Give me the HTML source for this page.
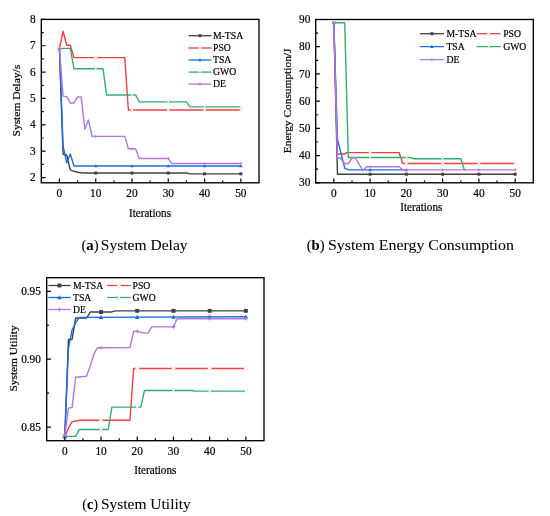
<!DOCTYPE html>
<html><head><meta charset="utf-8"><title>Figure</title>
<style>html,body{margin:0;padding:0;background:#fff;}svg{display:block;}text{stroke:#000;stroke-width:0.2px;}text.cap{stroke-width:0.05px;}</style>
</head><body>
<svg width="550" height="516" viewBox="0 0 550 516" font-family='"Liberation Serif", "Times New Roman", serif' fill="#000">
<rect width="550" height="516" fill="#fff"/>
<polyline points="59.44,48.39 63.07,154.34 66.7,154.86 70.33,170.15 73.95,171.2 77.58,172.26 81.21,172.79 84.84,173.05 186.43,173.05 190.06,173.84 240.86,173.84" fill="none" stroke="#404040" stroke-width="1.4" stroke-linejoin="round"/>
<rect x="57.94" y="46.89" width="3" height="3" fill="#404040"/>
<rect x="94.22" y="171.55" width="3" height="3" fill="#404040"/>
<rect x="130.51" y="171.55" width="3" height="3" fill="#404040"/>
<rect x="166.79" y="171.55" width="3" height="3" fill="#404040"/>
<rect x="203.07" y="172.34" width="3" height="3" fill="#404040"/>
<rect x="239.36" y="172.34" width="3" height="3" fill="#404040"/>
<polyline points="59.44,48.39 63.07,31.26 66.7,45.23 70.33,45.23 73.95,57.61 124.75,57.61 128.38,110.06 240.86,110.06" fill="none" stroke="#F14040" stroke-width="1.4" stroke-linejoin="round"/>
<circle cx="59.44" cy="48.39" r="1.5" fill="#fff" stroke="#F14040" stroke-width="0.5" stroke-opacity="0.3"/>
<circle cx="95.72" cy="57.61" r="1.5" fill="#fff" stroke="#F14040" stroke-width="0.5" stroke-opacity="0.3"/>
<circle cx="132.01" cy="110.06" r="1.5" fill="#fff" stroke="#F14040" stroke-width="0.5" stroke-opacity="0.3"/>
<circle cx="168.29" cy="110.06" r="1.5" fill="#fff" stroke="#F14040" stroke-width="0.5" stroke-opacity="0.3"/>
<circle cx="204.57" cy="110.06" r="1.5" fill="#fff" stroke="#F14040" stroke-width="0.5" stroke-opacity="0.3"/>
<circle cx="240.86" cy="110.06" r="1.5" fill="#fff" stroke="#F14040" stroke-width="0.5" stroke-opacity="0.3"/>
<polyline points="59.44,48.39 63.07,145.9 66.7,162.77 70.33,154.07 73.95,165.93 240.86,165.93" fill="none" stroke="#1A6FDF" stroke-width="1.4" stroke-linejoin="round"/>
<path d="M59.44 46.59L61.24 49.74L57.64 49.74Z" fill="#1A6FDF"/>
<path d="M95.72 164.13L97.52 167.28L93.92 167.28Z" fill="#1A6FDF"/>
<path d="M132.01 164.13L133.81 167.28L130.21 167.28Z" fill="#1A6FDF"/>
<path d="M168.29 164.13L170.09 167.28L166.49 167.28Z" fill="#1A6FDF"/>
<path d="M204.57 164.13L206.38 167.28L202.77 167.28Z" fill="#1A6FDF"/>
<path d="M240.86 164.13L242.66 167.28L239.06 167.28Z" fill="#1A6FDF"/>
<polyline points="59.44,48.39 70.33,48.39 73.95,68.68 102.98,68.68 106.61,95.04 135.64,95.04 139.26,101.89 186.43,101.89 190.06,106.9 240.86,106.9" fill="none" stroke="#37AD6B" stroke-width="1.4" stroke-linejoin="round"/>
<path d="M57.84 47.11L61.04 47.11L59.44 49.99Z" fill="#fff" stroke="#37AD6B" stroke-width="0.5" stroke-opacity="0.3"/>
<path d="M94.12 67.4L97.32 67.4L95.72 70.28Z" fill="#fff" stroke="#37AD6B" stroke-width="0.5" stroke-opacity="0.3"/>
<path d="M130.41 93.76L133.61 93.76L132.01 96.64Z" fill="#fff" stroke="#37AD6B" stroke-width="0.5" stroke-opacity="0.3"/>
<path d="M166.69 100.61L169.89 100.61L168.29 103.49Z" fill="#fff" stroke="#37AD6B" stroke-width="0.5" stroke-opacity="0.3"/>
<path d="M202.97 105.62L206.17 105.62L204.57 108.5Z" fill="#fff" stroke="#37AD6B" stroke-width="0.5" stroke-opacity="0.3"/>
<path d="M239.26 105.62L242.46 105.62L240.86 108.5Z" fill="#fff" stroke="#37AD6B" stroke-width="0.5" stroke-opacity="0.3"/>
<polyline points="59.44,48.39 63.07,96.09 66.7,96.62 70.33,102.94 73.95,102.94 77.58,96.88 81.21,96.88 84.84,129.3 88.47,120.08 92.1,136.42 124.75,136.42 128.38,148.8 135.64,148.8 139.26,158.55 168.29,158.55 171.92,163.56 240.86,163.56" fill="none" stroke="#B177DE" stroke-width="1.4" stroke-linejoin="round"/>
<path d="M59.44 46.59L60.04 47.79L61.24 48.39L60.04 48.99L59.44 50.19L58.84 48.99L57.64 48.39L58.84 47.79Z" fill="#B177DE"/>
<path d="M95.72 134.62L96.32 135.82L97.52 136.42L96.32 137.02L95.72 138.22L95.12 137.02L93.92 136.42L95.12 135.82Z" fill="#B177DE"/>
<path d="M132.01 147L132.61 148.2L133.81 148.8L132.61 149.4L132.01 150.6L131.41 149.4L130.21 148.8L131.41 148.2Z" fill="#B177DE"/>
<path d="M168.29 156.75L168.89 157.95L170.09 158.55L168.89 159.15L168.29 160.35L167.69 159.15L166.49 158.55L167.69 157.95Z" fill="#B177DE"/>
<path d="M204.57 161.76L205.17 162.96L206.38 163.56L205.17 164.16L204.57 165.36L203.97 164.16L202.77 163.56L203.97 162.96Z" fill="#B177DE"/>
<path d="M240.86 161.76L241.46 162.96L242.66 163.56L241.46 164.16L240.86 165.36L240.26 164.16L239.06 163.56L240.26 162.96Z" fill="#B177DE"/>
<rect x="41.3" y="19.4" width="217.7" height="163.4" fill="none" stroke="#000" stroke-width="1.35"/>
<path d="M59.44 182.8V178.6M95.72 182.8V178.6M132.01 182.8V178.6M168.29 182.8V178.6M204.57 182.8V178.6M240.86 182.8V178.6M77.58 182.8V180.4M113.87 182.8V180.4M150.15 182.8V180.4M186.43 182.8V180.4M222.72 182.8V180.4M41.3 177.53H45.5M41.3 151.17H45.5M41.3 124.82H45.5M41.3 98.46H45.5M41.3 72.11H45.5M41.3 45.75H45.5M41.3 19.4H45.5M41.3 164.35H43.7M41.3 138H43.7M41.3 111.64H43.7M41.3 85.29H43.7M41.3 58.93H43.7M41.3 32.58H43.7" stroke="#000" stroke-width="1.2" fill="none"/>
<text transform="translate(59.44 196.6) scale(1 1.08)" text-anchor="middle" font-size="11.3">0</text>
<text transform="translate(95.72 196.6) scale(1 1.08)" text-anchor="middle" font-size="11.3">10</text>
<text transform="translate(132.01 196.6) scale(1 1.08)" text-anchor="middle" font-size="11.3">20</text>
<text transform="translate(168.29 196.6) scale(1 1.08)" text-anchor="middle" font-size="11.3">30</text>
<text transform="translate(204.57 196.6) scale(1 1.08)" text-anchor="middle" font-size="11.3">40</text>
<text transform="translate(240.86 196.6) scale(1 1.08)" text-anchor="middle" font-size="11.3">50</text>
<text transform="translate(35.7 181.09) scale(1 1.08)" text-anchor="end" font-size="11.3">2</text>
<text transform="translate(35.7 154.74) scale(1 1.08)" text-anchor="end" font-size="11.3">3</text>
<text transform="translate(35.7 128.38) scale(1 1.08)" text-anchor="end" font-size="11.3">4</text>
<text transform="translate(35.7 102.03) scale(1 1.08)" text-anchor="end" font-size="11.3">5</text>
<text transform="translate(35.7 75.67) scale(1 1.08)" text-anchor="end" font-size="11.3">6</text>
<text transform="translate(35.7 49.32) scale(1 1.08)" text-anchor="end" font-size="11.3">7</text>
<text transform="translate(35.7 22.96) scale(1 1.08)" text-anchor="end" font-size="11.3">8</text>
<line x1="188.5" y1="35.7" x2="211.5" y2="35.7" stroke="#404040" stroke-width="1.3"/>
<rect x="198.5" y="34.2" width="3" height="3" fill="#404040"/>
<text x="213" y="39" font-size="9.7">M-TSA</text>
<line x1="188.5" y1="48" x2="211.5" y2="48" stroke="#F14040" stroke-width="1.3"/>
<circle cx="200" cy="48" r="1.5" fill="#fff" stroke="#F14040" stroke-width="0.5" stroke-opacity="0.3"/>
<text x="213" y="51.3" font-size="9.7">PSO</text>
<line x1="188.5" y1="60" x2="211.5" y2="60" stroke="#1A6FDF" stroke-width="1.3"/>
<path d="M200 58.2L201.8 61.35L198.2 61.35Z" fill="#1A6FDF"/>
<text x="213" y="63.3" font-size="9.7">TSA</text>
<line x1="188.5" y1="72.1" x2="211.5" y2="72.1" stroke="#37AD6B" stroke-width="1.3"/>
<path d="M198.4 70.82L201.6 70.82L200 73.7Z" fill="#fff" stroke="#37AD6B" stroke-width="0.5" stroke-opacity="0.3"/>
<text x="213" y="75.4" font-size="9.7">GWO</text>
<line x1="188.5" y1="84.1" x2="211.5" y2="84.1" stroke="#B177DE" stroke-width="1.3"/>
<path d="M200 82.3L200.6 83.5L201.8 84.1L200.6 84.7L200 85.9L199.4 84.7L198.2 84.1L199.4 83.5Z" fill="#B177DE"/>
<text x="213" y="87.4" font-size="9.7">DE</text>
<text transform="translate(20.3 100.65) rotate(-90)" text-anchor="middle" font-size="10.9" textLength="71.6" lengthAdjust="spacingAndGlyphs">System Delay/s</text>
<text transform="translate(150 216.9) scale(1 1.15)" text-anchor="middle" textLength="42" lengthAdjust="spacingAndGlyphs" font-size="11.2">Iterations</text>
<polyline points="333.83,22.77 337.46,174.23 515.17,174.23" fill="none" stroke="#404040" stroke-width="1.4" stroke-linejoin="round"/>
<rect x="332.33" y="21.27" width="3" height="3" fill="#404040"/>
<rect x="368.6" y="172.73" width="3" height="3" fill="#404040"/>
<rect x="404.87" y="172.73" width="3" height="3" fill="#404040"/>
<rect x="441.13" y="172.73" width="3" height="3" fill="#404040"/>
<rect x="477.4" y="172.73" width="3" height="3" fill="#404040"/>
<rect x="513.67" y="172.73" width="3" height="3" fill="#404040"/>
<polyline points="333.83,22.77 337.46,153.95 344.71,153.95 347.25,152.59 399.11,152.59 402.74,163.48 515.17,163.48" fill="none" stroke="#F14040" stroke-width="1.4" stroke-linejoin="round"/>
<circle cx="333.83" cy="22.77" r="1.5" fill="#fff" stroke="#F14040" stroke-width="0.5" stroke-opacity="0.3"/>
<circle cx="370.1" cy="152.59" r="1.5" fill="#fff" stroke="#F14040" stroke-width="0.5" stroke-opacity="0.3"/>
<circle cx="406.37" cy="163.48" r="1.5" fill="#fff" stroke="#F14040" stroke-width="0.5" stroke-opacity="0.3"/>
<circle cx="442.63" cy="163.48" r="1.5" fill="#fff" stroke="#F14040" stroke-width="0.5" stroke-opacity="0.3"/>
<circle cx="478.9" cy="163.48" r="1.5" fill="#fff" stroke="#F14040" stroke-width="0.5" stroke-opacity="0.3"/>
<circle cx="515.17" cy="163.48" r="1.5" fill="#fff" stroke="#F14040" stroke-width="0.5" stroke-opacity="0.3"/>
<polyline points="333.83,22.77 337.46,139.25 341.09,153.68 344.71,168.1 348.34,169.87 406.37,169.87" fill="none" stroke="#1A6FDF" stroke-width="1.4" stroke-linejoin="round"/>
<path d="M333.83 20.97L335.63 24.12L332.03 24.12Z" fill="#1A6FDF"/>
<path d="M370.1 168.07L371.9 171.22L368.3 171.22Z" fill="#1A6FDF"/>
<path d="M406.37 168.07L408.17 171.22L404.57 171.22Z" fill="#1A6FDF"/>
<polyline points="333.83,22.77 344.71,22.77 348.34,157.49 409.99,157.49 413.62,158.71 460.77,158.71 464.39,169.87 466.21,169.87" fill="none" stroke="#37AD6B" stroke-width="1.4" stroke-linejoin="round"/>
<path d="M332.23 21.49L335.43 21.49L333.83 24.37Z" fill="#fff" stroke="#37AD6B" stroke-width="0.5" stroke-opacity="0.3"/>
<path d="M368.5 156.21L371.7 156.21L370.1 159.09Z" fill="#fff" stroke="#37AD6B" stroke-width="0.5" stroke-opacity="0.3"/>
<path d="M404.77 156.21L407.97 156.21L406.37 159.09Z" fill="#fff" stroke="#37AD6B" stroke-width="0.5" stroke-opacity="0.3"/>
<path d="M441.03 157.43L444.23 157.43L442.63 160.31Z" fill="#fff" stroke="#37AD6B" stroke-width="0.5" stroke-opacity="0.3"/>
<polyline points="333.83,22.77 337.46,158.03 340.36,158.03 344.71,163.75 348.34,163.75 351.97,158.03 355.59,158.03 362.85,170.69 366.47,166.74 399.11,166.74 402.74,169.87 515.17,169.87" fill="none" stroke="#B177DE" stroke-width="1.4" stroke-linejoin="round"/>
<path d="M333.83 20.97L334.43 22.17L335.63 22.77L334.43 23.37L333.83 24.57L333.23 23.37L332.03 22.77L333.23 22.17Z" fill="#B177DE"/>
<path d="M370.1 164.94L370.7 166.14L371.9 166.74L370.7 167.34L370.1 168.54L369.5 167.34L368.3 166.74L369.5 166.14Z" fill="#B177DE"/>
<path d="M406.37 168.07L406.97 169.27L408.17 169.87L406.97 170.47L406.37 171.67L405.77 170.47L404.57 169.87L405.77 169.27Z" fill="#B177DE"/>
<path d="M442.63 168.07L443.23 169.27L444.43 169.87L443.23 170.47L442.63 171.67L442.03 170.47L440.83 169.87L442.03 169.27Z" fill="#B177DE"/>
<path d="M478.9 168.07L479.5 169.27L480.7 169.87L479.5 170.47L478.9 171.67L478.3 170.47L477.1 169.87L478.3 169.27Z" fill="#B177DE"/>
<path d="M515.17 168.07L515.77 169.27L516.97 169.87L515.77 170.47L515.17 171.67L514.57 170.47L513.37 169.87L514.57 169.27Z" fill="#B177DE"/>
<rect x="315.7" y="19.5" width="217.6" height="163.3" fill="none" stroke="#000" stroke-width="1.35"/>
<path d="M333.83 182.8V178.6M370.1 182.8V178.6M406.37 182.8V178.6M442.63 182.8V178.6M478.9 182.8V178.6M515.17 182.8V178.6M351.97 182.8V180.4M388.23 182.8V180.4M424.5 182.8V180.4M460.77 182.8V180.4M497.03 182.8V180.4M315.7 182.8H319.9M315.7 155.58H319.9M315.7 128.37H319.9M315.7 101.15H319.9M315.7 73.93H319.9M315.7 46.72H319.9M315.7 19.5H319.9M315.7 169.19H318.1M315.7 141.98H318.1M315.7 114.76H318.1M315.7 87.54H318.1M315.7 60.33H318.1M315.7 33.11H318.1" stroke="#000" stroke-width="1.2" fill="none"/>
<text transform="translate(333.83 196.6) scale(1 1.08)" text-anchor="middle" font-size="11.3">0</text>
<text transform="translate(370.1 196.6) scale(1 1.08)" text-anchor="middle" font-size="11.3">10</text>
<text transform="translate(406.37 196.6) scale(1 1.08)" text-anchor="middle" font-size="11.3">20</text>
<text transform="translate(442.63 196.6) scale(1 1.08)" text-anchor="middle" font-size="11.3">30</text>
<text transform="translate(478.9 196.6) scale(1 1.08)" text-anchor="middle" font-size="11.3">40</text>
<text transform="translate(515.17 196.6) scale(1 1.08)" text-anchor="middle" font-size="11.3">50</text>
<text transform="translate(310.3 186.36) scale(1 1.08)" text-anchor="end" font-size="11.3">30</text>
<text transform="translate(310.3 159.15) scale(1 1.08)" text-anchor="end" font-size="11.3">40</text>
<text transform="translate(310.3 131.93) scale(1 1.08)" text-anchor="end" font-size="11.3">50</text>
<text transform="translate(310.3 104.71) scale(1 1.08)" text-anchor="end" font-size="11.3">60</text>
<text transform="translate(310.3 77.5) scale(1 1.08)" text-anchor="end" font-size="11.3">70</text>
<text transform="translate(310.3 50.28) scale(1 1.08)" text-anchor="end" font-size="11.3">80</text>
<text transform="translate(310.3 23.06) scale(1 1.08)" text-anchor="end" font-size="11.3">90</text>
<line x1="419.9" y1="33.7" x2="443.9" y2="33.7" stroke="#404040" stroke-width="1.3"/>
<rect x="430.4" y="32.2" width="3" height="3" fill="#404040"/>
<text x="446.4" y="37" font-size="9.7">M-TSA</text>
<line x1="476.6" y1="33.7" x2="500.6" y2="33.7" stroke="#F14040" stroke-width="1.3"/>
<circle cx="488.6" cy="33.7" r="1.5" fill="#fff" stroke="#F14040" stroke-width="0.5" stroke-opacity="0.3"/>
<text x="503.2" y="37" font-size="9.7">PSO</text>
<line x1="419.9" y1="46.6" x2="443.9" y2="46.6" stroke="#1A6FDF" stroke-width="1.3"/>
<path d="M431.9 44.8L433.7 47.95L430.1 47.95Z" fill="#1A6FDF"/>
<text x="446.4" y="49.9" font-size="9.7">TSA</text>
<line x1="476.6" y1="46.6" x2="500.6" y2="46.6" stroke="#37AD6B" stroke-width="1.3"/>
<path d="M487 45.32L490.2 45.32L488.6 48.2Z" fill="#fff" stroke="#37AD6B" stroke-width="0.5" stroke-opacity="0.3"/>
<text x="503.2" y="49.9" font-size="9.7">GWO</text>
<line x1="419.9" y1="59.6" x2="443.9" y2="59.6" stroke="#B177DE" stroke-width="1.3"/>
<path d="M431.9 57.8L432.5 59L433.7 59.6L432.5 60.2L431.9 61.4L431.3 60.2L430.1 59.6L431.3 59Z" fill="#B177DE"/>
<text x="446.4" y="62.9" font-size="9.7">DE</text>
<text transform="translate(290.9 100.85) rotate(-90)" text-anchor="middle" font-size="10.9" textLength="104.6" lengthAdjust="spacingAndGlyphs">Energy Consumption/J</text>
<text transform="translate(421.3 211.1) scale(1 1.15)" text-anchor="middle" textLength="42" lengthAdjust="spacingAndGlyphs" font-size="11.2">Iterations</text>
<polyline points="64.81,436.35 68.43,339.5 72.05,339.5 75.67,318.04 86.54,318.04 90.16,312.07 111.89,311.93 115.51,310.84 245.89,310.84" fill="none" stroke="#404040" stroke-width="1.4" stroke-linejoin="round"/>
<rect x="62.86" y="434.4" width="3.9" height="3.9" fill="#404040"/>
<rect x="99.08" y="310.05" width="3.9" height="3.9" fill="#404040"/>
<rect x="135.29" y="308.89" width="3.9" height="3.9" fill="#404040"/>
<rect x="171.51" y="308.89" width="3.9" height="3.9" fill="#404040"/>
<rect x="207.73" y="308.89" width="3.9" height="3.9" fill="#404040"/>
<rect x="243.94" y="308.89" width="3.9" height="3.9" fill="#404040"/>
<polyline points="64.81,436.35 68.43,428.47 72.05,421.68 75.67,421 79.3,420.32 130,420.32 133.62,368.44 245.89,368.44" fill="none" stroke="#F14040" stroke-width="1.4" stroke-linejoin="round"/>
<circle cx="64.81" cy="436.35" r="1.95" fill="#fff" stroke="#F14040" stroke-width="0.5" stroke-opacity="0.3"/>
<circle cx="101.03" cy="420.32" r="1.95" fill="#fff" stroke="#F14040" stroke-width="0.5" stroke-opacity="0.3"/>
<circle cx="137.24" cy="368.44" r="1.95" fill="#fff" stroke="#F14040" stroke-width="0.5" stroke-opacity="0.3"/>
<circle cx="173.46" cy="368.44" r="1.95" fill="#fff" stroke="#F14040" stroke-width="0.5" stroke-opacity="0.3"/>
<circle cx="209.68" cy="368.44" r="1.95" fill="#fff" stroke="#F14040" stroke-width="0.5" stroke-opacity="0.3"/>
<circle cx="245.89" cy="368.44" r="1.95" fill="#fff" stroke="#F14040" stroke-width="0.5" stroke-opacity="0.3"/>
<polyline points="64.81,436.35 68.43,348.74 72.05,330 75.67,322.93 79.3,317.36 245.89,316.82" fill="none" stroke="#1A6FDF" stroke-width="1.4" stroke-linejoin="round"/>
<path d="M64.81 434.01L67.15 438.11L62.47 438.11Z" fill="#1A6FDF"/>
<path d="M101.03 314.95L103.37 319.05L98.69 319.05Z" fill="#1A6FDF"/>
<path d="M137.24 314.83L139.58 318.93L134.9 318.93Z" fill="#1A6FDF"/>
<path d="M173.46 314.72L175.8 318.81L171.12 318.81Z" fill="#1A6FDF"/>
<path d="M209.68 314.6L212.02 318.69L207.34 318.69Z" fill="#1A6FDF"/>
<path d="M245.89 314.48L248.23 318.57L243.55 318.57Z" fill="#1A6FDF"/>
<polyline points="64.81,436.35 75.67,436.35 79.3,429.43 108.27,429.43 111.89,407.15 140.86,407.15 144.49,390.44 191.57,390.44 195.19,391.12 245.89,391.12" fill="none" stroke="#37AD6B" stroke-width="1.4" stroke-linejoin="round"/>
<path d="M62.73 434.69L66.89 434.69L64.81 438.43Z" fill="#fff" stroke="#37AD6B" stroke-width="0.5" stroke-opacity="0.3"/>
<path d="M98.95 427.76L103.11 427.76L101.03 431.51Z" fill="#fff" stroke="#37AD6B" stroke-width="0.5" stroke-opacity="0.3"/>
<path d="M135.16 405.49L139.32 405.49L137.24 409.23Z" fill="#fff" stroke="#37AD6B" stroke-width="0.5" stroke-opacity="0.3"/>
<path d="M171.38 388.78L175.54 388.78L173.46 392.52Z" fill="#fff" stroke="#37AD6B" stroke-width="0.5" stroke-opacity="0.3"/>
<path d="M207.59 389.46L211.76 389.46L209.68 393.2Z" fill="#fff" stroke="#37AD6B" stroke-width="0.5" stroke-opacity="0.3"/>
<path d="M243.81 389.46L247.97 389.46L245.89 393.2Z" fill="#fff" stroke="#37AD6B" stroke-width="0.5" stroke-opacity="0.3"/>
<polyline points="64.81,435.54 68.43,408.1 72.05,407.56 75.67,377.27 86.54,376.31 90.16,365.99 93.78,354.45 97.4,347.79 130,347.65 133.62,331.35 137.24,331.35 144.49,333.12 148.11,333.12 151.73,326.87 173.46,326.87 177.08,318.72 245.89,318.72" fill="none" stroke="#B177DE" stroke-width="1.4" stroke-linejoin="round"/>
<path d="M64.81 433.2L65.59 434.76L67.15 435.54L65.59 436.32L64.81 437.88L64.03 436.32L62.47 435.54L64.03 434.76Z" fill="#B177DE"/>
<path d="M101.03 345.43L101.81 346.99L103.37 347.77L101.81 348.55L101.03 350.11L100.25 348.55L98.69 347.77L100.25 346.99Z" fill="#B177DE"/>
<path d="M137.24 329.01L138.02 330.57L139.58 331.35L138.02 332.13L137.24 333.69L136.46 332.13L134.9 331.35L136.46 330.57Z" fill="#B177DE"/>
<path d="M173.46 324.53L174.24 326.09L175.8 326.87L174.24 327.65L173.46 329.21L172.68 327.65L171.12 326.87L172.68 326.09Z" fill="#B177DE"/>
<path d="M209.68 316.38L210.46 317.94L212.02 318.72L210.46 319.5L209.68 321.06L208.9 319.5L207.34 318.72L208.9 317.94Z" fill="#B177DE"/>
<path d="M245.89 316.38L246.67 317.94L248.23 318.72L246.67 319.5L245.89 321.06L245.11 319.5L243.55 318.72L245.11 317.94Z" fill="#B177DE"/>
<rect x="46.7" y="277.7" width="217.3" height="163" fill="none" stroke="#000" stroke-width="1.35"/>
<path d="M64.81 440.7V436.5M101.03 440.7V436.5M137.24 440.7V436.5M173.46 440.7V436.5M209.68 440.7V436.5M245.89 440.7V436.5M82.92 440.7V438.3M119.13 440.7V438.3M155.35 440.7V438.3M191.57 440.7V438.3M227.78 440.7V438.3M46.7 427.12H50.9M46.7 359.2H50.9M46.7 291.28H50.9M46.7 393.16H49.1M46.7 325.24H49.1" stroke="#000" stroke-width="1.2" fill="none"/>
<text transform="translate(64.81 454.6) scale(1 1.08)" text-anchor="middle" font-size="11.3">0</text>
<text transform="translate(101.03 454.6) scale(1 1.08)" text-anchor="middle" font-size="11.3">10</text>
<text transform="translate(137.24 454.6) scale(1 1.08)" text-anchor="middle" font-size="11.3">20</text>
<text transform="translate(173.46 454.6) scale(1 1.08)" text-anchor="middle" font-size="11.3">30</text>
<text transform="translate(209.68 454.6) scale(1 1.08)" text-anchor="middle" font-size="11.3">40</text>
<text transform="translate(245.89 454.6) scale(1 1.08)" text-anchor="middle" font-size="11.3">50</text>
<text transform="translate(40.9 430.68) scale(1 1.08)" text-anchor="end" font-size="11.3">0.85</text>
<text transform="translate(40.9 362.76) scale(1 1.08)" text-anchor="end" font-size="11.3">0.90</text>
<text transform="translate(40.9 294.85) scale(1 1.08)" text-anchor="end" font-size="11.3">0.95</text>
<line x1="48.3" y1="285.5" x2="70.6" y2="285.5" stroke="#404040" stroke-width="1.3"/>
<rect x="57.5" y="283.55" width="3.9" height="3.9" fill="#404040"/>
<text x="73" y="288.8" font-size="9.7">M-TSA</text>
<line x1="107.2" y1="285.5" x2="130.6" y2="285.5" stroke="#F14040" stroke-width="1.3"/>
<circle cx="118.9" cy="285.5" r="1.95" fill="#fff" stroke="#F14040" stroke-width="0.5" stroke-opacity="0.3"/>
<text x="132.6" y="288.8" font-size="9.7">PSO</text>
<line x1="48.3" y1="297.5" x2="70.6" y2="297.5" stroke="#1A6FDF" stroke-width="1.3"/>
<path d="M59.45 295.16L61.79 299.25L57.11 299.25Z" fill="#1A6FDF"/>
<text x="73" y="300.8" font-size="9.7">TSA</text>
<line x1="107.2" y1="297.5" x2="130.6" y2="297.5" stroke="#37AD6B" stroke-width="1.3"/>
<path d="M116.82 295.84L120.98 295.84L118.9 299.58Z" fill="#fff" stroke="#37AD6B" stroke-width="0.5" stroke-opacity="0.3"/>
<text x="132.6" y="300.8" font-size="9.7">GWO</text>
<line x1="48.3" y1="309.5" x2="70.6" y2="309.5" stroke="#B177DE" stroke-width="1.3"/>
<path d="M59.45 307.16L60.23 308.72L61.79 309.5L60.23 310.28L59.45 311.84L58.67 310.28L57.11 309.5L58.67 308.72Z" fill="#B177DE"/>
<text x="73" y="312.8" font-size="9.7">DE</text>
<text transform="translate(16.6 358.5) rotate(-90)" text-anchor="middle" font-size="10.6" textLength="66.2" lengthAdjust="spacingAndGlyphs">System Utility</text>
<text transform="translate(155.3 474.4) scale(1 1.15)" text-anchor="middle" textLength="42" lengthAdjust="spacingAndGlyphs" font-size="11.2">Iterations</text>
<text class="cap" x="81.4" y="250.1" font-size="14" textLength="17.3" lengthAdjust="spacingAndGlyphs">(<tspan font-weight="bold">a</tspan>)</text>
<text class="cap" x="100.8" y="250.1" font-size="14" textLength="86.8" lengthAdjust="spacingAndGlyphs">System Delay</text>
<text class="cap" x="306.7" y="250.4" font-size="14" textLength="18" lengthAdjust="spacingAndGlyphs">(<tspan font-weight="bold">b</tspan>)</text>
<text class="cap" x="328" y="250.4" font-size="14" textLength="185.9" lengthAdjust="spacingAndGlyphs">System Energy Consumption</text>
<text class="cap" x="82.2" y="508.5" font-size="14" textLength="15.9" lengthAdjust="spacingAndGlyphs">(<tspan font-weight="bold">c</tspan>)</text>
<text class="cap" x="100.9" y="508.5" font-size="14" textLength="89.9" lengthAdjust="spacingAndGlyphs">System Utility</text>
</svg>
</body></html>
